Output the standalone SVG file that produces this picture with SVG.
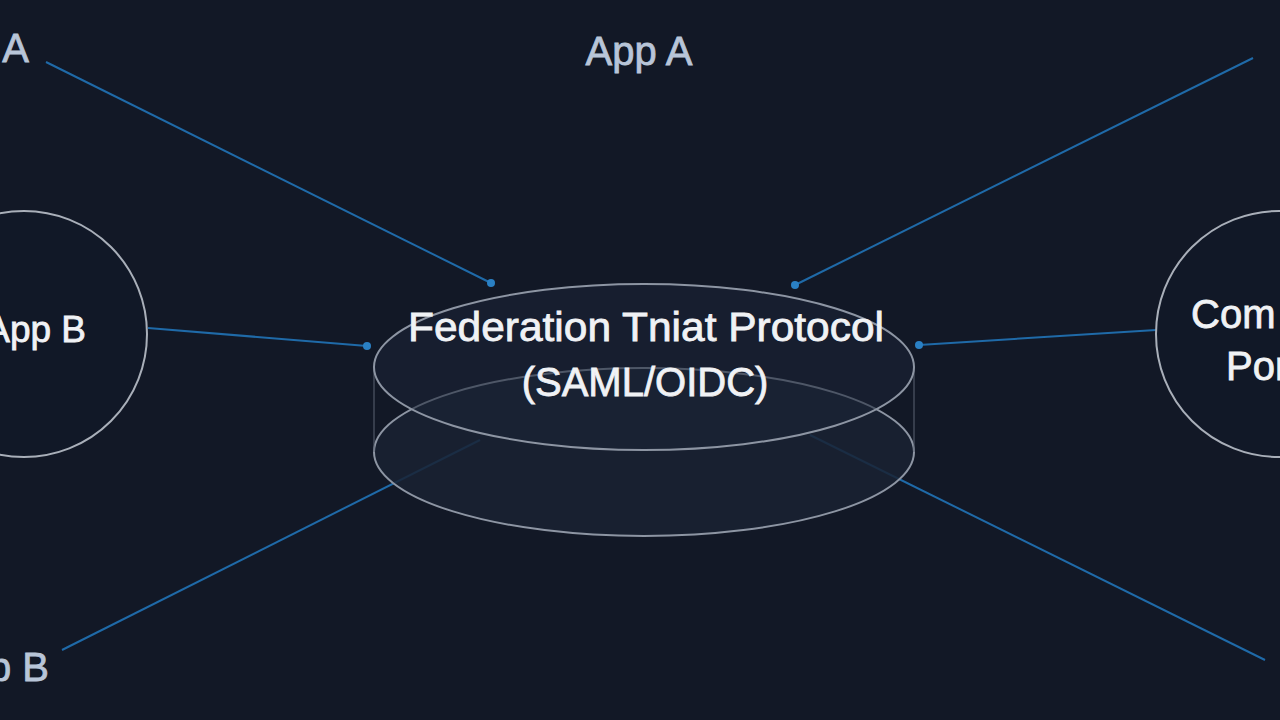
<svg xmlns="http://www.w3.org/2000/svg" width="1280" height="720" viewBox="0 0 1280 720">
<style>
.bg{fill:#121826}
.conn{stroke:#1f6aa8;stroke-width:2;fill:none}
.dot{fill:#2a80c4}
.ring{fill:#111827;stroke:#a9afb9;stroke-width:2}
.lbl{font-family:"Liberation Sans",Arial,sans-serif;fill:#f0f2f5;stroke:#f0f2f5;stroke-width:0.8}
.out{font-family:"Liberation Sans",Arial,sans-serif;fill:#b8c5d8;stroke:#b8c5d8;stroke-width:0.8}
.disk{stroke:#8d95a3;stroke-width:2}
</style>
<rect class="bg" x="0" y="0" width="1280" height="720"/>
<g id="connectors">
<line class="conn" x1="46" y1="62" x2="491" y2="283"/>
<line class="conn" x1="1253" y1="58" x2="795" y2="285"/>
<line class="conn" x1="148" y1="328" x2="367" y2="346"/>
<line class="conn" x1="1156" y1="330" x2="919" y2="345"/>
<line class="conn" x1="62" y1="650" x2="480" y2="440"/>
<line class="conn" x1="1265" y1="660" x2="810" y2="435"/>
<circle class="dot" cx="491" cy="283" r="4"/>
<circle class="dot" cx="795" cy="285" r="4"/>
<circle class="dot" cx="367" cy="346" r="4"/>
<circle class="dot" cx="919" cy="345" r="4"/>
</g>
<g id="node-app-a-top-left">
<text class="out" x="29" y="62" font-size="40" text-anchor="end">A</text>
</g>
<g id="node-app-a">
<text class="out" x="639" y="65" font-size="40" text-anchor="middle">App A</text>
</g>
<g id="node-app-b-bottom-left">
<text class="out" x="49" y="681" font-size="40" text-anchor="end">App B</text>
</g>
<g id="node-app-b">
<circle class="ring" cx="24" cy="334" r="123"/>
<text class="lbl" x="86" y="342" font-size="37" text-anchor="end">App B</text>
</g>
<g id="node-portal">
<circle class="ring" cx="1279" cy="334" r="123"/>
<text class="lbl" x="1191" y="328" font-size="40">Com</text>
<text class="lbl" x="1226" y="380" font-size="40">Por</text>
</g>
<g id="node-federation">
<ellipse class="disk" cx="644" cy="452" rx="270" ry="84" fill="#1a2232" fill-opacity="0.85"/>
<line x1="374" y1="367" x2="374" y2="452" stroke="#5a6272" stroke-width="1"/>
<line x1="914" y1="367" x2="914" y2="452" stroke="#5a6272" stroke-width="1"/>
<ellipse class="disk" cx="644" cy="367" rx="270" ry="83" fill="#1c2537" fill-opacity="0.55"/>
<text class="lbl" x="646" y="341" font-size="40" text-anchor="middle" textLength="476" lengthAdjust="spacingAndGlyphs">Federation Tniat Protocol</text>
<text class="lbl" x="645" y="396" font-size="40" text-anchor="middle">(SAML/OIDC)</text>
</g>
</svg>
